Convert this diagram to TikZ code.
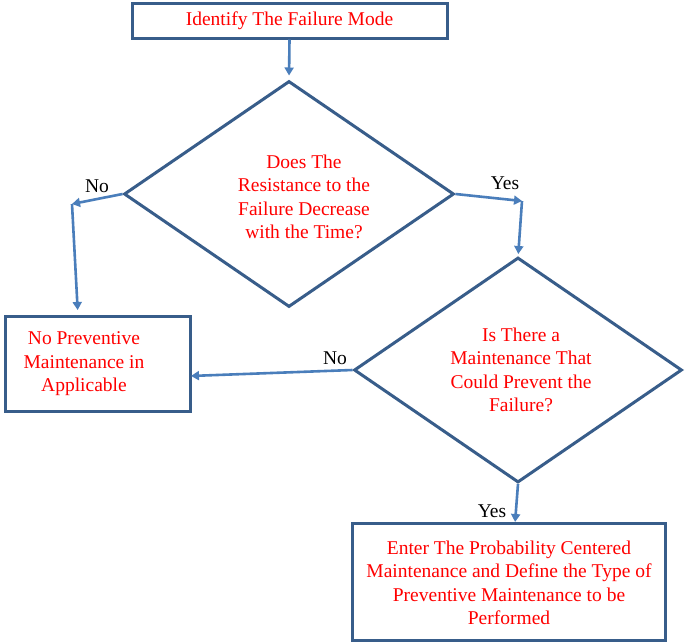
\documentclass[tikz,border=0pt]{standalone}
\usepackage{fontspec}
\setmainfont{Liberation Serif}
\usetikzlibrary{shapes.geometric,arrows.meta}
\definecolor{boxblue}{HTML}{385D8A}
\definecolor{arrowblue}{HTML}{4A7EBB}
\definecolor{txtred}{HTML}{FF0000}
\begin{document}
\begin{tikzpicture}[x=1pt,y=-1pt,
  boxshape/.style={draw=boxblue,line width=3pt,rectangle,inner sep=0pt},
  dshape/.style={draw=boxblue,line width=3pt,diamond,inner sep=0pt},
  redtext/.style={text=txtred,align=center,font=\fontsize{19.5}{23.5}\selectfont,inner sep=0pt},
  answer/.style={text=black,font=\fontsize{19.5}{22}\selectfont,inner sep=0pt},
  conn/.style={draw=arrowblue,line width=2.6pt,-{Triangle[width=9pt,length=8pt]}}]
\path[fill=white] (0,0) rectangle (685,643);
\useasboundingbox (0,0) rectangle (685,643);
% boxes
\node[boxshape,minimum width=315pt,minimum height=35pt] (top) at (289.5,20.5) {};
\node[redtext] (toptext) at (289.5,20.5) {Identify The Failure Mode};
\node[boxshape,minimum width=185pt,minimum height=95pt] (nobox) at (97.5,363.5) {};
\node[redtext] (noboxtext) at (84,364) {No Preventive\\Maintenance in\\Applicable};
\node[boxshape,minimum width=313pt,minimum height=117pt] (endbox) at (508.5,581.5) {};
\node[redtext] (endtext) at (509,583) {Enter The Probability Centered\\Maintenance and Define the Type of\\Preventive Maintenance to be\\Performed};
% diamonds
\node[dshape,minimum width=330pt,minimum height=226pt] (d1) at (289,194) {};
\node[redtext] (d1text) at (304,197) {Does The\\Resistance to the\\Failure Decrease\\with the Time?};
\node[dshape,minimum width=328pt,minimum height=225pt] (d2) at (518,370) {};
\node[redtext] (d2text) at (521,370) {Is There a\\Maintenance That\\Could Prevent the\\Failure?};
% bend points
\coordinate (c1) at (72,204);
\coordinate (n1) at (78,316);
\coordinate (c2) at (522,201);
\coordinate (n2) at (518,258);
\coordinate (n3) at (190,376);
\coordinate (n4) at (515,523);
% connectors
\draw[conn,shorten >=4pt] (top.south) -- (d1.north);
\draw[conn] (d1.west) -- (c1);
\draw[conn,shorten >=6pt] (c1) -- (n1);
\draw[conn] (d1.east) -- (c2);
\draw[conn,shorten >=4pt] (c2) -- (n2);
\draw[conn,shorten >=1pt] (d2.west) -- (n3);
\draw[conn,shorten >=1pt] (d2.south) -- (n4);
% answer labels
\node[answer] (l1) at (97,186) {No};
\node[answer] (l2) at (505,183) {Yes};
\node[answer] (l3) at (335,358) {No};
\node[answer] (l4) at (492,511) {Yes};
\end{tikzpicture}
\end{document}
